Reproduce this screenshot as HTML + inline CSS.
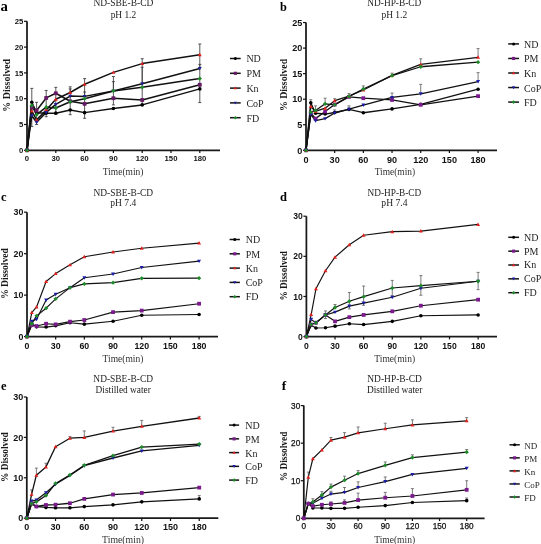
<!DOCTYPE html>
<html><head><meta charset="utf-8"><style>
html,body{margin:0;padding:0;background:#fff;}
body{width:541px;height:544px;overflow:hidden;font-family:"Liberation Sans",sans-serif;}
svg{display:block;will-change:transform;}
</style></head><body>
<svg width="541" height="544" viewBox="0 0 541 544">
<rect width="541" height="544" fill="#fff"/>
<g><text x="0.5" y="10.7" font-family="Liberation Serif, serif" font-weight="bold" font-size="14.8" fill="#000">a</text><text x="123.4" y="6.3" font-family="Liberation Serif, serif" font-size="9.4" fill="#222" text-anchor="middle" textLength="60.0" lengthAdjust="spacingAndGlyphs">ND-SBE-B-CD</text><text x="123.4" y="17.7" font-family="Liberation Serif, serif" font-size="9.4" fill="#222" text-anchor="middle" textLength="25.5" lengthAdjust="spacingAndGlyphs">pH 1.2</text><path d="M27.00,21.30V150.30H220.00" fill="none" stroke="#1a1a1a" stroke-width="1.75"/><path d="M24.00,150.30H27.00" stroke="#111" stroke-width="1.2"/><text x="23.40" y="153.06" font-family="Liberation Sans, sans-serif" font-weight="bold" font-size="7.7" fill="#111" text-anchor="end">0</text><path d="M24.00,124.50H27.00" stroke="#111" stroke-width="1.2"/><text x="23.40" y="127.26" font-family="Liberation Sans, sans-serif" font-weight="bold" font-size="7.7" fill="#111" text-anchor="end">5</text><path d="M24.00,98.70H27.00" stroke="#111" stroke-width="1.2"/><text x="23.40" y="101.46" font-family="Liberation Sans, sans-serif" font-weight="bold" font-size="7.7" fill="#111" text-anchor="end">10</text><path d="M24.00,72.90H27.00" stroke="#111" stroke-width="1.2"/><text x="23.40" y="75.66" font-family="Liberation Sans, sans-serif" font-weight="bold" font-size="7.7" fill="#111" text-anchor="end">15</text><path d="M24.00,47.10H27.00" stroke="#111" stroke-width="1.2"/><text x="23.40" y="49.86" font-family="Liberation Sans, sans-serif" font-weight="bold" font-size="7.7" fill="#111" text-anchor="end">20</text><path d="M24.00,21.30H27.00" stroke="#111" stroke-width="1.2"/><text x="23.40" y="24.06" font-family="Liberation Sans, sans-serif" font-weight="bold" font-size="7.7" fill="#111" text-anchor="end">25</text><text x="27.00" y="161.00" font-family="Liberation Sans, sans-serif" font-weight="bold" font-size="7.7" fill="#111" text-anchor="middle">0</text><path d="M55.80,150.30V153.10" stroke="#111" stroke-width="1.2"/><text x="55.80" y="161.00" font-family="Liberation Sans, sans-serif" font-weight="bold" font-size="7.7" fill="#111" text-anchor="middle">30</text><path d="M84.60,150.30V153.10" stroke="#111" stroke-width="1.2"/><text x="84.60" y="161.00" font-family="Liberation Sans, sans-serif" font-weight="bold" font-size="7.7" fill="#111" text-anchor="middle">60</text><path d="M113.40,150.30V153.10" stroke="#111" stroke-width="1.2"/><text x="113.40" y="161.00" font-family="Liberation Sans, sans-serif" font-weight="bold" font-size="7.7" fill="#111" text-anchor="middle">90</text><path d="M142.20,150.30V153.10" stroke="#111" stroke-width="1.2"/><text x="142.20" y="161.00" font-family="Liberation Sans, sans-serif" font-weight="bold" font-size="7.7" fill="#111" text-anchor="middle">120</text><path d="M171.00,150.30V153.10" stroke="#111" stroke-width="1.2"/><text x="171.00" y="161.00" font-family="Liberation Sans, sans-serif" font-weight="bold" font-size="7.7" fill="#111" text-anchor="middle">150</text><path d="M199.80,150.30V153.10" stroke="#111" stroke-width="1.2"/><text x="199.80" y="161.00" font-family="Liberation Sans, sans-serif" font-weight="bold" font-size="7.7" fill="#111" text-anchor="middle">180</text><text transform="translate(9.6,85.3) rotate(-90)" font-family="Liberation Serif, serif" font-weight="bold" font-size="10.0" fill="#1a1a1a" text-anchor="middle" textLength="52.8" lengthAdjust="spacingAndGlyphs">% Dissolved</text><text x="123.10" y="174.6" font-family="Liberation Serif, serif" font-size="9.4" fill="#333" text-anchor="middle" textLength="40.70" lengthAdjust="spacingAndGlyphs">Time(min)</text><path d="M31.80,88.38V126.56M30.30,88.38H33.30" stroke="#3a3a3a" stroke-width="0.85" fill="none"/><path d="M30.30,126.56H33.30" stroke="#3a3a3a" stroke-width="0.85"/><path d="M36.60,102.31V124.50M35.10,102.31H38.10" stroke="#3a3a3a" stroke-width="0.85" fill="none"/><path d="M35.10,124.50H38.10" stroke="#3a3a3a" stroke-width="0.85"/><path d="M46.20,90.44V116.76M44.70,90.44H47.70" stroke="#3a3a3a" stroke-width="0.85" fill="none"/><path d="M44.70,116.76H47.70" stroke="#3a3a3a" stroke-width="0.85"/><path d="M55.80,87.35V114.18M54.30,87.35H57.30" stroke="#3a3a3a" stroke-width="0.85" fill="none"/><path d="M54.30,114.18H57.30" stroke="#3a3a3a" stroke-width="0.85"/><path d="M70.20,86.83V114.70M68.70,86.83H71.70" stroke="#3a3a3a" stroke-width="0.85" fill="none"/><path d="M68.70,114.70H71.70" stroke="#3a3a3a" stroke-width="0.85"/><path d="M84.60,78.58V118.31M83.10,78.58H86.10" stroke="#3a3a3a" stroke-width="0.85" fill="none"/><path d="M83.10,118.31H86.10" stroke="#3a3a3a" stroke-width="0.85"/><path d="M113.40,76.51V104.89M111.90,76.51H114.90" stroke="#3a3a3a" stroke-width="0.85" fill="none"/><path d="M111.90,104.89H114.90" stroke="#3a3a3a" stroke-width="0.85"/><path d="M142.20,58.71V104.89M140.70,58.71H143.70" stroke="#3a3a3a" stroke-width="0.85" fill="none"/><path d="M140.70,104.89H143.70" stroke="#3a3a3a" stroke-width="0.85"/><path d="M199.80,44.00V102.57M198.30,44.00H201.30" stroke="#3a3a3a" stroke-width="0.85" fill="none"/><path d="M198.30,102.57H201.30" stroke="#3a3a3a" stroke-width="0.85"/><path d="M113.40,81.67V90.96M111.90,81.67H114.90" stroke="#3a3a3a" stroke-width="0.85" fill="none"/><path d="M142.20,67.22V83.74M140.70,67.22H143.70" stroke="#3a3a3a" stroke-width="0.85" fill="none"/><path d="M199.80,64.39V68.51M198.30,64.39H201.30" stroke="#3a3a3a" stroke-width="0.85" fill="none"/><path d="M70.20,88.90V92.51M68.70,88.90H71.70" stroke="#3a3a3a" stroke-width="0.85" fill="none"/><path d="M84.60,91.99V96.38M83.10,91.99H86.10" stroke="#3a3a3a" stroke-width="0.85" fill="none"/><polyline points="27.00,150.30 31.80,102.31 36.60,112.63 46.20,113.15 55.80,113.15 70.20,110.05 84.60,112.63 113.40,108.50 142.20,104.89 199.80,88.90" fill="none" stroke="#111" stroke-width="1.5" stroke-linejoin="round"/><polyline points="27.00,150.30 31.80,107.47 36.60,110.57 46.20,97.93 55.80,93.28 70.20,101.28 84.60,103.86 113.40,98.18 142.20,99.99 199.80,84.77" fill="none" stroke="#111" stroke-width="1.5" stroke-linejoin="round"/><polyline points="27.00,150.30 31.80,111.08 36.60,119.86 46.20,110.05 55.80,99.22 70.20,92.51 84.60,84.25 113.40,72.38 142.20,63.61 199.80,54.84" fill="none" stroke="#111" stroke-width="1.5" stroke-linejoin="round"/><polyline points="27.00,150.30 31.80,115.73 36.60,122.18 46.20,112.37 55.80,104.38 70.20,96.12 84.60,96.38 113.40,90.96 142.20,83.74 199.80,68.51" fill="none" stroke="#111" stroke-width="1.5" stroke-linejoin="round"/><polyline points="27.00,150.30 31.80,105.41 36.60,114.70 46.20,107.21 55.80,107.99 70.20,101.80 84.60,98.70 113.40,90.96 142.20,87.35 199.80,78.58" fill="none" stroke="#111" stroke-width="1.5" stroke-linejoin="round"/><circle cx="27.00" cy="150.30" r="1.80" fill="#000000"/><circle cx="31.80" cy="102.31" r="1.80" fill="#000000"/><circle cx="36.60" cy="112.63" r="1.80" fill="#000000"/><circle cx="46.20" cy="113.15" r="1.80" fill="#000000"/><circle cx="55.80" cy="113.15" r="1.80" fill="#000000"/><circle cx="70.20" cy="110.05" r="1.80" fill="#000000"/><circle cx="84.60" cy="112.63" r="1.80" fill="#000000"/><circle cx="113.40" cy="108.50" r="1.80" fill="#000000"/><circle cx="142.20" cy="104.89" r="1.80" fill="#000000"/><circle cx="199.80" cy="88.90" r="1.80" fill="#000000"/><rect x="25.11" y="148.41" width="3.78" height="3.78" fill="#661a66"/><rect x="29.91" y="105.58" width="3.78" height="3.78" fill="#661a66"/><rect x="34.71" y="108.68" width="3.78" height="3.78" fill="#661a66"/><rect x="44.31" y="96.04" width="3.78" height="3.78" fill="#661a66"/><rect x="53.91" y="91.39" width="3.78" height="3.78" fill="#661a66"/><rect x="68.31" y="99.39" width="3.78" height="3.78" fill="#661a66"/><rect x="82.71" y="101.97" width="3.78" height="3.78" fill="#661a66"/><rect x="111.51" y="96.29" width="3.78" height="3.78" fill="#661a66"/><rect x="140.31" y="98.10" width="3.78" height="3.78" fill="#661a66"/><rect x="197.91" y="82.88" width="3.78" height="3.78" fill="#661a66"/><path d="M27.00,148.32L28.98,151.79L25.02,151.79Z" fill="#e0201c"/><path d="M31.80,109.10L33.78,112.57L29.82,112.57Z" fill="#e0201c"/><path d="M36.60,117.88L38.58,121.34L34.62,121.34Z" fill="#e0201c"/><path d="M46.20,108.07L48.18,111.54L44.22,111.54Z" fill="#e0201c"/><path d="M55.80,97.24L57.78,100.70L53.82,100.70Z" fill="#e0201c"/><path d="M70.20,90.53L72.18,93.99L68.22,93.99Z" fill="#e0201c"/><path d="M84.60,82.27L86.58,85.74L82.62,85.74Z" fill="#e0201c"/><path d="M113.40,70.40L115.38,73.87L111.42,73.87Z" fill="#e0201c"/><path d="M142.20,61.63L144.18,65.10L140.22,65.10Z" fill="#e0201c"/><path d="M199.80,52.86L201.78,56.33L197.82,56.33Z" fill="#e0201c"/><path d="M27.00,152.28L28.98,148.81L25.02,148.81Z" fill="#20209a"/><path d="M31.80,117.71L33.78,114.24L29.82,114.24Z" fill="#20209a"/><path d="M36.60,124.16L38.58,120.69L34.62,120.69Z" fill="#20209a"/><path d="M46.20,114.35L48.18,110.89L44.22,110.89Z" fill="#20209a"/><path d="M55.80,106.36L57.78,102.89L53.82,102.89Z" fill="#20209a"/><path d="M70.20,98.10L72.18,94.64L68.22,94.64Z" fill="#20209a"/><path d="M84.60,98.36L86.58,94.89L82.62,94.89Z" fill="#20209a"/><path d="M113.40,92.94L115.38,89.48L111.42,89.48Z" fill="#20209a"/><path d="M142.20,85.72L144.18,82.25L140.22,82.25Z" fill="#20209a"/><path d="M199.80,70.49L201.78,67.03L197.82,67.03Z" fill="#20209a"/><path d="M27.00,148.14L29.16,150.30L27.00,152.46L24.84,150.30Z" fill="#1f8a2a"/><path d="M31.80,103.25L33.96,105.41L31.80,107.57L29.64,105.41Z" fill="#1f8a2a"/><path d="M36.60,112.54L38.76,114.70L36.60,116.86L34.44,114.70Z" fill="#1f8a2a"/><path d="M46.20,105.05L48.36,107.21L46.20,109.37L44.04,107.21Z" fill="#1f8a2a"/><path d="M55.80,105.83L57.96,107.99L55.80,110.15L53.64,107.99Z" fill="#1f8a2a"/><path d="M70.20,99.64L72.36,101.80L70.20,103.96L68.04,101.80Z" fill="#1f8a2a"/><path d="M84.60,96.54L86.76,98.70L84.60,100.86L82.44,98.70Z" fill="#1f8a2a"/><path d="M113.40,88.80L115.56,90.96L113.40,93.12L111.24,90.96Z" fill="#1f8a2a"/><path d="M142.20,85.19L144.36,87.35L142.20,89.51L140.04,87.35Z" fill="#1f8a2a"/><path d="M199.80,76.42L201.96,78.58L199.80,80.74L197.64,78.58Z" fill="#1f8a2a"/><path d="M230.00,58.50H240.70" stroke="#111" stroke-width="1.5"/><circle cx="235.35" cy="58.50" r="1.50" fill="#000000"/><text x="246.4" y="62.45" font-family="Liberation Serif, serif" font-size="10.0" fill="#252525">ND</text><path d="M230.00,73.30H240.70" stroke="#111" stroke-width="1.5"/><rect x="233.78" y="71.72" width="3.15" height="3.15" fill="#661a66"/><text x="246.4" y="77.25" font-family="Liberation Serif, serif" font-size="10.0" fill="#252525">PM</text><path d="M230.00,88.10H240.70" stroke="#111" stroke-width="1.5"/><path d="M235.35,86.45L237.00,89.34L233.70,89.34Z" fill="#e0201c"/><text x="246.4" y="92.05" font-family="Liberation Serif, serif" font-size="10.0" fill="#252525">Kn</text><path d="M230.00,102.90H240.70" stroke="#111" stroke-width="1.5"/><path d="M235.35,104.55L237.00,101.66L233.70,101.66Z" fill="#20209a"/><text x="246.4" y="106.85" font-family="Liberation Serif, serif" font-size="10.0" fill="#252525">CoP</text><path d="M230.00,117.70H240.70" stroke="#111" stroke-width="1.5"/><path d="M235.35,115.90L237.15,117.70L235.35,119.50L233.55,117.70Z" fill="#1f8a2a"/><text x="246.4" y="121.65" font-family="Liberation Serif, serif" font-size="10.0" fill="#252525">FD</text></g><g><text x="280.0" y="10.9" font-family="Liberation Serif, serif" font-weight="bold" font-size="12.3" fill="#000">b</text><text x="394.3" y="6.3" font-family="Liberation Serif, serif" font-size="9.4" fill="#222" text-anchor="middle" textLength="54.0" lengthAdjust="spacingAndGlyphs">ND-HP-B-CD</text><text x="394.3" y="17.7" font-family="Liberation Serif, serif" font-size="9.4" fill="#222" text-anchor="middle" textLength="25.799999999999997" lengthAdjust="spacingAndGlyphs">pH 1.2</text><path d="M306.00,22.55V150.30H497.00" fill="none" stroke="#1a1a1a" stroke-width="1.75"/><path d="M303.00,150.30H306.00" stroke="#111" stroke-width="1.2"/><text x="302.40" y="153.56" font-family="Liberation Sans, sans-serif" font-weight="bold" font-size="9.1" fill="#111" text-anchor="end">0</text><path d="M303.00,124.75H306.00" stroke="#111" stroke-width="1.2"/><text x="302.40" y="128.01" font-family="Liberation Sans, sans-serif" font-weight="bold" font-size="9.1" fill="#111" text-anchor="end">5</text><path d="M303.00,99.20H306.00" stroke="#111" stroke-width="1.2"/><text x="302.40" y="102.46" font-family="Liberation Sans, sans-serif" font-weight="bold" font-size="9.1" fill="#111" text-anchor="end">10</text><path d="M303.00,73.65H306.00" stroke="#111" stroke-width="1.2"/><text x="302.40" y="76.91" font-family="Liberation Sans, sans-serif" font-weight="bold" font-size="9.1" fill="#111" text-anchor="end">15</text><path d="M303.00,48.10H306.00" stroke="#111" stroke-width="1.2"/><text x="302.40" y="51.36" font-family="Liberation Sans, sans-serif" font-weight="bold" font-size="9.1" fill="#111" text-anchor="end">20</text><path d="M303.00,22.55H306.00" stroke="#111" stroke-width="1.2"/><text x="302.40" y="25.81" font-family="Liberation Sans, sans-serif" font-weight="bold" font-size="9.1" fill="#111" text-anchor="end">25</text><text x="306.00" y="162.60" font-family="Liberation Sans, sans-serif" font-weight="bold" font-size="9.1" fill="#111" text-anchor="middle">0</text><path d="M334.68,150.30V153.10" stroke="#111" stroke-width="1.2"/><text x="334.68" y="162.60" font-family="Liberation Sans, sans-serif" font-weight="bold" font-size="9.1" fill="#111" text-anchor="middle">30</text><path d="M363.36,150.30V153.10" stroke="#111" stroke-width="1.2"/><text x="363.36" y="162.60" font-family="Liberation Sans, sans-serif" font-weight="bold" font-size="9.1" fill="#111" text-anchor="middle">60</text><path d="M392.04,150.30V153.10" stroke="#111" stroke-width="1.2"/><text x="392.04" y="162.60" font-family="Liberation Sans, sans-serif" font-weight="bold" font-size="9.1" fill="#111" text-anchor="middle">90</text><path d="M420.72,150.30V153.10" stroke="#111" stroke-width="1.2"/><text x="420.72" y="162.60" font-family="Liberation Sans, sans-serif" font-weight="bold" font-size="9.1" fill="#111" text-anchor="middle">120</text><path d="M449.40,150.30V153.10" stroke="#111" stroke-width="1.2"/><text x="449.40" y="162.60" font-family="Liberation Sans, sans-serif" font-weight="bold" font-size="9.1" fill="#111" text-anchor="middle">150</text><path d="M478.08,150.30V153.10" stroke="#111" stroke-width="1.2"/><text x="478.08" y="162.60" font-family="Liberation Sans, sans-serif" font-weight="bold" font-size="9.1" fill="#111" text-anchor="middle">180</text><text transform="translate(287.2,85.0) rotate(-90)" font-family="Liberation Serif, serif" font-weight="bold" font-size="10.3" fill="#1a1a1a" text-anchor="middle" textLength="52.199999999999996" lengthAdjust="spacingAndGlyphs">% Dissolved</text><text x="394.90" y="174.8" font-family="Liberation Serif, serif" font-size="9.4" fill="#333" text-anchor="middle" textLength="40.50" lengthAdjust="spacingAndGlyphs">Time(min)</text><path d="M310.78,99.71V102.78M309.28,99.71H312.28" stroke="#666" stroke-width="0.85" fill="none"/><path d="M315.56,105.84V110.44M314.06,105.84H317.06" stroke="#666" stroke-width="0.85" fill="none"/><path d="M325.12,98.18V103.80M323.62,98.18H326.62" stroke="#666" stroke-width="0.85" fill="none"/><path d="M334.68,98.69V100.73M333.18,98.69H336.18" stroke="#666" stroke-width="0.85" fill="none"/><path d="M349.02,93.58V96.13M347.52,93.58H350.52" stroke="#666" stroke-width="0.85" fill="none"/><path d="M363.36,85.91V88.98M361.86,85.91H364.86" stroke="#666" stroke-width="0.85" fill="none"/><path d="M392.04,73.14V75.44M390.54,73.14H393.54" stroke="#666" stroke-width="0.85" fill="none"/><path d="M420.72,58.83V64.45M419.22,58.83H422.22" stroke="#666" stroke-width="0.85" fill="none"/><path d="M478.08,48.61V57.30M476.58,48.61H479.58" stroke="#666" stroke-width="0.85" fill="none"/><path d="M420.72,84.38V93.83M419.22,84.38H422.22" stroke="#666" stroke-width="0.85" fill="none"/><path d="M478.08,72.63V81.57M476.58,72.63H479.58" stroke="#666" stroke-width="0.85" fill="none"/><path d="M392.04,93.07V97.41M390.54,93.07H393.54" stroke="#666" stroke-width="0.85" fill="none"/><path d="M349.02,105.84V109.16M347.52,105.84H350.52" stroke="#666" stroke-width="0.85" fill="none"/><path d="M334.68,109.93V112.49M333.18,109.93H336.18" stroke="#666" stroke-width="0.85" fill="none"/><polyline points="306.00,150.30 310.78,102.78 315.56,113.25 325.12,114.02 334.68,112.49 349.02,109.42 363.36,112.74 392.04,108.91 420.72,104.31 478.08,89.24" fill="none" stroke="#111" stroke-width="1.3" stroke-linejoin="round"/><polyline points="306.00,150.30 310.78,113.00 315.56,118.62 325.12,111.46 334.68,104.57 349.02,96.90 363.36,98.18 392.04,99.97 420.72,104.82 478.08,96.13" fill="none" stroke="#111" stroke-width="1.3" stroke-linejoin="round"/><polyline points="306.00,150.30 310.78,106.61 315.56,111.46 325.12,108.14 334.68,100.73 349.02,96.13 363.36,90.00 392.04,75.44 420.72,64.45 478.08,57.30" fill="none" stroke="#111" stroke-width="1.3" stroke-linejoin="round"/><polyline points="306.00,150.30 310.78,114.53 315.56,120.66 325.12,118.62 334.68,113.00 349.02,109.16 363.36,105.08 392.04,97.41 420.72,93.83 478.08,81.57" fill="none" stroke="#111" stroke-width="1.3" stroke-linejoin="round"/><polyline points="306.00,150.30 310.78,112.23 315.56,110.44 325.12,103.80 334.68,104.82 349.02,96.39 363.36,88.98 392.04,75.69 420.72,66.75 478.08,62.15" fill="none" stroke="#111" stroke-width="1.3" stroke-linejoin="round"/><circle cx="306.00" cy="150.30" r="1.80" fill="#000000"/><circle cx="310.78" cy="102.78" r="1.80" fill="#000000"/><circle cx="315.56" cy="113.25" r="1.80" fill="#000000"/><circle cx="325.12" cy="114.02" r="1.80" fill="#000000"/><circle cx="334.68" cy="112.49" r="1.80" fill="#000000"/><circle cx="349.02" cy="109.42" r="1.80" fill="#000000"/><circle cx="363.36" cy="112.74" r="1.80" fill="#000000"/><circle cx="392.04" cy="108.91" r="1.80" fill="#000000"/><circle cx="420.72" cy="104.31" r="1.80" fill="#000000"/><circle cx="478.08" cy="89.24" r="1.80" fill="#000000"/><rect x="304.11" y="148.41" width="3.78" height="3.78" fill="#7a1a8c"/><rect x="308.89" y="111.11" width="3.78" height="3.78" fill="#7a1a8c"/><rect x="313.67" y="116.73" width="3.78" height="3.78" fill="#7a1a8c"/><rect x="323.23" y="109.57" width="3.78" height="3.78" fill="#7a1a8c"/><rect x="332.79" y="102.68" width="3.78" height="3.78" fill="#7a1a8c"/><rect x="347.13" y="95.01" width="3.78" height="3.78" fill="#7a1a8c"/><rect x="361.47" y="96.29" width="3.78" height="3.78" fill="#7a1a8c"/><rect x="390.15" y="98.08" width="3.78" height="3.78" fill="#7a1a8c"/><rect x="418.83" y="102.93" width="3.78" height="3.78" fill="#7a1a8c"/><rect x="476.19" y="94.24" width="3.78" height="3.78" fill="#7a1a8c"/><path d="M306.00,148.32L307.98,151.79L304.02,151.79Z" fill="#e0201c"/><path d="M310.78,104.63L312.76,108.09L308.80,108.09Z" fill="#e0201c"/><path d="M315.56,109.48L317.54,112.95L313.58,112.95Z" fill="#e0201c"/><path d="M325.12,106.16L327.10,109.63L323.14,109.63Z" fill="#e0201c"/><path d="M334.68,98.75L336.66,102.22L332.70,102.22Z" fill="#e0201c"/><path d="M349.02,94.15L351.00,97.62L347.04,97.62Z" fill="#e0201c"/><path d="M363.36,88.02L365.34,91.49L361.38,91.49Z" fill="#e0201c"/><path d="M392.04,73.46L394.02,76.92L390.06,76.92Z" fill="#e0201c"/><path d="M420.72,62.47L422.70,65.94L418.74,65.94Z" fill="#e0201c"/><path d="M478.08,55.32L480.06,58.78L476.10,58.78Z" fill="#e0201c"/><path d="M306.00,152.28L307.98,148.81L304.02,148.81Z" fill="#1c1ca8"/><path d="M310.78,116.51L312.76,113.05L308.80,113.05Z" fill="#1c1ca8"/><path d="M315.56,122.64L317.54,119.18L313.58,119.18Z" fill="#1c1ca8"/><path d="M325.12,120.60L327.10,117.13L323.14,117.13Z" fill="#1c1ca8"/><path d="M334.68,114.98L336.66,111.51L332.70,111.51Z" fill="#1c1ca8"/><path d="M349.02,111.14L351.00,107.68L347.04,107.68Z" fill="#1c1ca8"/><path d="M363.36,107.06L365.34,103.59L361.38,103.59Z" fill="#1c1ca8"/><path d="M392.04,99.39L394.02,95.93L390.06,95.93Z" fill="#1c1ca8"/><path d="M420.72,95.81L422.70,92.35L418.74,92.35Z" fill="#1c1ca8"/><path d="M478.08,83.55L480.06,80.09L476.10,80.09Z" fill="#1c1ca8"/><path d="M306.00,148.14L308.16,150.30L306.00,152.46L303.84,150.30Z" fill="#1f8a2a"/><path d="M310.78,110.07L312.94,112.23L310.78,114.39L308.62,112.23Z" fill="#1f8a2a"/><path d="M315.56,108.28L317.72,110.44L315.56,112.60L313.40,110.44Z" fill="#1f8a2a"/><path d="M325.12,101.64L327.28,103.80L325.12,105.96L322.96,103.80Z" fill="#1f8a2a"/><path d="M334.68,102.66L336.84,104.82L334.68,106.98L332.52,104.82Z" fill="#1f8a2a"/><path d="M349.02,94.23L351.18,96.39L349.02,98.55L346.86,96.39Z" fill="#1f8a2a"/><path d="M363.36,86.82L365.52,88.98L363.36,91.14L361.20,88.98Z" fill="#1f8a2a"/><path d="M392.04,73.53L394.20,75.69L392.04,77.85L389.88,75.69Z" fill="#1f8a2a"/><path d="M420.72,64.59L422.88,66.75L420.72,68.91L418.56,66.75Z" fill="#1f8a2a"/><path d="M478.08,59.99L480.24,62.15L478.08,64.31L475.92,62.15Z" fill="#1f8a2a"/><path d="M508.20,43.90H519.00" stroke="#111" stroke-width="1.5"/><circle cx="513.60" cy="43.90" r="1.50" fill="#000000"/><text x="524.0" y="47.85" font-family="Liberation Serif, serif" font-size="10.0" fill="#252525">ND</text><path d="M508.20,58.45H519.00" stroke="#111" stroke-width="1.5"/><rect x="512.02" y="56.88" width="3.15" height="3.15" fill="#7a1a8c"/><text x="524.0" y="62.40" font-family="Liberation Serif, serif" font-size="10.0" fill="#252525">PM</text><path d="M508.20,73.00H519.00" stroke="#111" stroke-width="1.5"/><path d="M513.60,71.35L515.25,74.24L511.95,74.24Z" fill="#e0201c"/><text x="524.0" y="76.95" font-family="Liberation Serif, serif" font-size="10.0" fill="#252525">Kn</text><path d="M508.20,87.55H519.00" stroke="#111" stroke-width="1.5"/><path d="M513.60,89.20L515.25,86.31L511.95,86.31Z" fill="#1c1ca8"/><text x="524.0" y="91.50" font-family="Liberation Serif, serif" font-size="10.0" fill="#252525">CoP</text><path d="M508.20,102.10H519.00" stroke="#111" stroke-width="1.5"/><path d="M513.60,100.30L515.40,102.10L513.60,103.90L511.80,102.10Z" fill="#1f8a2a"/><text x="524.0" y="106.05" font-family="Liberation Serif, serif" font-size="10.0" fill="#252525">FD</text></g><g><text x="1.0" y="201.1" font-family="Liberation Serif, serif" font-weight="bold" font-size="12.5" fill="#000">c</text><text x="123.3" y="195.7" font-family="Liberation Serif, serif" font-size="9.4" fill="#222" text-anchor="middle" textLength="59.699999999999996" lengthAdjust="spacingAndGlyphs">ND-SBE-B-CD</text><text x="123.3" y="206.2" font-family="Liberation Serif, serif" font-size="9.4" fill="#222" text-anchor="middle" textLength="26.0" lengthAdjust="spacingAndGlyphs">pH 7.4</text><path d="M27.00,212.19V336.60H218.00" fill="none" stroke="#1a1a1a" stroke-width="1.75"/><path d="M24.00,336.60H27.00" stroke="#111" stroke-width="1.2"/><text x="23.40" y="339.75" font-family="Liberation Sans, sans-serif" font-weight="bold" font-size="8.8" fill="#111" text-anchor="end">0</text><path d="M24.00,295.13H27.00" stroke="#111" stroke-width="1.2"/><text x="23.40" y="298.28" font-family="Liberation Sans, sans-serif" font-weight="bold" font-size="8.8" fill="#111" text-anchor="end">10</text><path d="M24.00,253.66H27.00" stroke="#111" stroke-width="1.2"/><text x="23.40" y="256.81" font-family="Liberation Sans, sans-serif" font-weight="bold" font-size="8.8" fill="#111" text-anchor="end">20</text><path d="M24.00,212.19H27.00" stroke="#111" stroke-width="1.2"/><text x="23.40" y="215.34" font-family="Liberation Sans, sans-serif" font-weight="bold" font-size="8.8" fill="#111" text-anchor="end">30</text><text x="27.00" y="349.00" font-family="Liberation Sans, sans-serif" font-weight="bold" font-size="8.8" fill="#111" text-anchor="middle">0</text><path d="M55.68,336.60V339.40" stroke="#111" stroke-width="1.2"/><text x="55.68" y="349.00" font-family="Liberation Sans, sans-serif" font-weight="bold" font-size="8.8" fill="#111" text-anchor="middle">30</text><path d="M84.36,336.60V339.40" stroke="#111" stroke-width="1.2"/><text x="84.36" y="349.00" font-family="Liberation Sans, sans-serif" font-weight="bold" font-size="8.8" fill="#111" text-anchor="middle">60</text><path d="M113.04,336.60V339.40" stroke="#111" stroke-width="1.2"/><text x="113.04" y="349.00" font-family="Liberation Sans, sans-serif" font-weight="bold" font-size="8.8" fill="#111" text-anchor="middle">90</text><path d="M141.72,336.60V339.40" stroke="#111" stroke-width="1.2"/><text x="141.72" y="349.00" font-family="Liberation Sans, sans-serif" font-weight="bold" font-size="8.8" fill="#111" text-anchor="middle">120</text><path d="M170.40,336.60V339.40" stroke="#111" stroke-width="1.2"/><text x="170.40" y="349.00" font-family="Liberation Sans, sans-serif" font-weight="bold" font-size="8.8" fill="#111" text-anchor="middle">150</text><path d="M199.08,336.60V339.40" stroke="#111" stroke-width="1.2"/><text x="199.08" y="349.00" font-family="Liberation Sans, sans-serif" font-weight="bold" font-size="8.8" fill="#111" text-anchor="middle">180</text><text transform="translate(8.3,273.5) rotate(-90)" font-family="Liberation Serif, serif" font-weight="bold" font-size="10.3" fill="#1a1a1a" text-anchor="middle" textLength="50.599999999999994" lengthAdjust="spacingAndGlyphs">% Dissolved</text><text x="123.00" y="362.0" font-family="Liberation Serif, serif" font-size="9.4" fill="#333" text-anchor="middle" textLength="40.90" lengthAdjust="spacingAndGlyphs">Time(min)</text><polyline points="27.00,336.60 31.78,323.74 36.56,326.85 46.12,327.06 55.68,325.82 70.02,322.71 84.36,324.16 113.04,321.26 141.72,315.20 199.08,314.50" fill="none" stroke="#111" stroke-width="1.15" stroke-linejoin="round"/><polyline points="27.00,336.60 31.78,325.20 36.56,326.03 46.12,323.74 55.68,324.37 70.02,321.67 84.36,320.01 113.04,312.13 141.72,310.60 199.08,303.71" fill="none" stroke="#111" stroke-width="1.15" stroke-linejoin="round"/><polyline points="27.00,336.60 31.78,312.55 36.56,306.95 46.12,281.44 55.68,273.57 70.02,264.86 84.36,256.77 113.04,252.00 141.72,248.27 199.08,243.09" fill="none" stroke="#111" stroke-width="1.15" stroke-linejoin="round"/><polyline points="27.00,336.60 31.78,321.26 36.56,319.18 46.12,299.90 55.68,294.30 70.02,287.67 84.36,277.71 113.04,273.98 141.72,267.55 199.08,261.12" fill="none" stroke="#111" stroke-width="1.15" stroke-linejoin="round"/><polyline points="27.00,336.60 31.78,323.74 36.56,315.87 46.12,308.19 55.68,298.86 70.02,287.67 84.36,283.93 113.04,282.69 141.72,278.33 199.08,278.13" fill="none" stroke="#111" stroke-width="1.15" stroke-linejoin="round"/><circle cx="27.00" cy="336.60" r="1.80" fill="#000000"/><circle cx="31.78" cy="323.74" r="1.80" fill="#000000"/><circle cx="36.56" cy="326.85" r="1.80" fill="#000000"/><circle cx="46.12" cy="327.06" r="1.80" fill="#000000"/><circle cx="55.68" cy="325.82" r="1.80" fill="#000000"/><circle cx="70.02" cy="322.71" r="1.80" fill="#000000"/><circle cx="84.36" cy="324.16" r="1.80" fill="#000000"/><circle cx="113.04" cy="321.26" r="1.80" fill="#000000"/><circle cx="141.72" cy="315.20" r="1.80" fill="#000000"/><circle cx="199.08" cy="314.50" r="1.80" fill="#000000"/><rect x="25.11" y="334.71" width="3.78" height="3.78" fill="#7a1a8c"/><rect x="29.89" y="323.31" width="3.78" height="3.78" fill="#7a1a8c"/><rect x="34.67" y="324.14" width="3.78" height="3.78" fill="#7a1a8c"/><rect x="44.23" y="321.85" width="3.78" height="3.78" fill="#7a1a8c"/><rect x="53.79" y="322.48" width="3.78" height="3.78" fill="#7a1a8c"/><rect x="68.13" y="319.78" width="3.78" height="3.78" fill="#7a1a8c"/><rect x="82.47" y="318.12" width="3.78" height="3.78" fill="#7a1a8c"/><rect x="111.15" y="310.24" width="3.78" height="3.78" fill="#7a1a8c"/><rect x="139.83" y="308.71" width="3.78" height="3.78" fill="#7a1a8c"/><rect x="197.19" y="301.82" width="3.78" height="3.78" fill="#7a1a8c"/><path d="M27.00,334.62L28.98,338.09L25.02,338.09Z" fill="#e0201c"/><path d="M31.78,310.57L33.76,314.03L29.80,314.03Z" fill="#e0201c"/><path d="M36.56,304.97L38.54,308.43L34.58,308.43Z" fill="#e0201c"/><path d="M46.12,279.46L48.10,282.93L44.14,282.93Z" fill="#e0201c"/><path d="M55.68,271.59L57.66,275.05L53.70,275.05Z" fill="#e0201c"/><path d="M70.02,262.88L72.00,266.34L68.04,266.34Z" fill="#e0201c"/><path d="M84.36,254.79L86.34,258.26L82.38,258.26Z" fill="#e0201c"/><path d="M113.04,250.02L115.02,253.49L111.06,253.49Z" fill="#e0201c"/><path d="M141.72,246.29L143.70,249.75L139.74,249.75Z" fill="#e0201c"/><path d="M199.08,241.11L201.06,244.57L197.10,244.57Z" fill="#e0201c"/><path d="M27.00,338.58L28.98,335.12L25.02,335.12Z" fill="#1c1ca8"/><path d="M31.78,323.24L33.76,319.77L29.80,319.77Z" fill="#1c1ca8"/><path d="M36.56,321.16L38.54,317.70L34.58,317.70Z" fill="#1c1ca8"/><path d="M46.12,301.88L48.10,298.41L44.14,298.41Z" fill="#1c1ca8"/><path d="M55.68,296.28L57.66,292.82L53.70,292.82Z" fill="#1c1ca8"/><path d="M70.02,289.65L72.00,286.18L68.04,286.18Z" fill="#1c1ca8"/><path d="M84.36,279.69L86.34,276.23L82.38,276.23Z" fill="#1c1ca8"/><path d="M113.04,275.96L115.02,272.50L111.06,272.50Z" fill="#1c1ca8"/><path d="M141.72,269.53L143.70,266.07L139.74,266.07Z" fill="#1c1ca8"/><path d="M199.08,263.10L201.06,259.64L197.10,259.64Z" fill="#1c1ca8"/><path d="M27.00,334.44L29.16,336.60L27.00,338.76L24.84,336.60Z" fill="#1f8a2a"/><path d="M31.78,321.58L33.94,323.74L31.78,325.90L29.62,323.74Z" fill="#1f8a2a"/><path d="M36.56,313.70L38.72,315.87L36.56,318.03L34.40,315.87Z" fill="#1f8a2a"/><path d="M46.12,306.03L48.28,308.19L46.12,310.35L43.96,308.19Z" fill="#1f8a2a"/><path d="M55.68,296.70L57.84,298.86L55.68,301.02L53.52,298.86Z" fill="#1f8a2a"/><path d="M70.02,285.51L72.18,287.67L70.02,289.83L67.86,287.67Z" fill="#1f8a2a"/><path d="M84.36,281.77L86.52,283.93L84.36,286.09L82.20,283.93Z" fill="#1f8a2a"/><path d="M113.04,280.53L115.20,282.69L113.04,284.85L110.88,282.69Z" fill="#1f8a2a"/><path d="M141.72,276.17L143.88,278.33L141.72,280.49L139.56,278.33Z" fill="#1f8a2a"/><path d="M199.08,275.97L201.24,278.13L199.08,280.29L196.92,278.13Z" fill="#1f8a2a"/><path d="M229.60,239.50H239.90" stroke="#111" stroke-width="1.5"/><circle cx="234.75" cy="239.50" r="1.50" fill="#000000"/><text x="245.7" y="243.25" font-family="Liberation Serif, serif" font-size="10.0" fill="#252525">ND</text><path d="M229.60,253.80H239.90" stroke="#111" stroke-width="1.5"/><rect x="233.18" y="252.23" width="3.15" height="3.15" fill="#7a1a8c"/><text x="245.7" y="257.55" font-family="Liberation Serif, serif" font-size="10.0" fill="#252525">PM</text><path d="M229.60,268.10H239.90" stroke="#111" stroke-width="1.5"/><path d="M234.75,266.45L236.40,269.34L233.10,269.34Z" fill="#e0201c"/><text x="245.7" y="271.85" font-family="Liberation Serif, serif" font-size="10.0" fill="#252525">Kn</text><path d="M229.60,282.40H239.90" stroke="#111" stroke-width="1.5"/><path d="M234.75,284.05L236.40,281.16L233.10,281.16Z" fill="#1c1ca8"/><text x="245.7" y="286.15" font-family="Liberation Serif, serif" font-size="10.0" fill="#252525">CoP</text><path d="M229.60,296.70H239.90" stroke="#111" stroke-width="1.5"/><path d="M234.75,294.90L236.55,296.70L234.75,298.50L232.95,296.70Z" fill="#1f8a2a"/><text x="245.7" y="300.45" font-family="Liberation Serif, serif" font-size="10.0" fill="#252525">FD</text></g><g><text x="280.0" y="201.1" font-family="Liberation Serif, serif" font-weight="bold" font-size="12.5" fill="#000">d</text><text x="394.4" y="195.7" font-family="Liberation Serif, serif" font-size="9.4" fill="#222" text-anchor="middle" textLength="53.699999999999996" lengthAdjust="spacingAndGlyphs">ND-HP-B-CD</text><text x="394.4" y="206.2" font-family="Liberation Serif, serif" font-size="9.4" fill="#222" text-anchor="middle" textLength="26.099999999999998" lengthAdjust="spacingAndGlyphs">pH 7.4</text><path d="M306.40,216.21V336.60H497.00" fill="none" stroke="#1a1a1a" stroke-width="1.75"/><path d="M303.40,336.60H306.40" stroke="#111" stroke-width="1.2"/><text x="302.80" y="339.68" font-family="Liberation Sans, sans-serif" font-weight="bold" font-size="8.6" fill="#111" text-anchor="end">0</text><path d="M303.40,296.47H306.40" stroke="#111" stroke-width="1.2"/><text x="302.80" y="299.55" font-family="Liberation Sans, sans-serif" font-weight="bold" font-size="8.6" fill="#111" text-anchor="end">10</text><path d="M303.40,256.34H306.40" stroke="#111" stroke-width="1.2"/><text x="302.80" y="259.42" font-family="Liberation Sans, sans-serif" font-weight="bold" font-size="8.6" fill="#111" text-anchor="end">20</text><path d="M303.40,216.21H306.40" stroke="#111" stroke-width="1.2"/><text x="302.80" y="219.29" font-family="Liberation Sans, sans-serif" font-weight="bold" font-size="8.6" fill="#111" text-anchor="end">30</text><text x="306.40" y="348.60" font-family="Liberation Sans, sans-serif" font-weight="bold" font-size="8.6" fill="#111" text-anchor="middle">0</text><path d="M335.02,336.60V339.40" stroke="#111" stroke-width="1.2"/><text x="335.02" y="348.60" font-family="Liberation Sans, sans-serif" font-weight="bold" font-size="8.6" fill="#111" text-anchor="middle">30</text><path d="M363.64,336.60V339.40" stroke="#111" stroke-width="1.2"/><text x="363.64" y="348.60" font-family="Liberation Sans, sans-serif" font-weight="bold" font-size="8.6" fill="#111" text-anchor="middle">60</text><path d="M392.26,336.60V339.40" stroke="#111" stroke-width="1.2"/><text x="392.26" y="348.60" font-family="Liberation Sans, sans-serif" font-weight="bold" font-size="8.6" fill="#111" text-anchor="middle">90</text><path d="M420.88,336.60V339.40" stroke="#111" stroke-width="1.2"/><text x="420.88" y="348.60" font-family="Liberation Sans, sans-serif" font-weight="bold" font-size="8.6" fill="#111" text-anchor="middle">120</text><path d="M449.50,336.60V339.40" stroke="#111" stroke-width="1.2"/><text x="449.50" y="348.60" font-family="Liberation Sans, sans-serif" font-weight="bold" font-size="8.6" fill="#111" text-anchor="middle">150</text><path d="M478.12,336.60V339.40" stroke="#111" stroke-width="1.2"/><text x="478.12" y="348.60" font-family="Liberation Sans, sans-serif" font-weight="bold" font-size="8.6" fill="#111" text-anchor="middle">180</text><text transform="translate(287.4,275.8) rotate(-90)" font-family="Liberation Serif, serif" font-weight="bold" font-size="10.3" fill="#1a1a1a" text-anchor="middle" textLength="49.5" lengthAdjust="spacingAndGlyphs">% Dissolved</text><text x="394.75" y="362.0" font-family="Liberation Serif, serif" font-size="9.4" fill="#333" text-anchor="middle" textLength="40.80" lengthAdjust="spacingAndGlyphs">Time(min)</text><path d="M325.48,310.92V318.54M323.98,310.92H326.98" stroke="#666" stroke-width="0.85" fill="none"/><path d="M323.98,318.54H326.98" stroke="#666" stroke-width="0.85"/><path d="M335.02,304.50V307.51M333.52,304.50H336.52" stroke="#666" stroke-width="0.85" fill="none"/><path d="M349.33,292.46V308.91M347.83,292.46H350.83" stroke="#666" stroke-width="0.85" fill="none"/><path d="M347.83,308.91H350.83" stroke="#666" stroke-width="0.85"/><path d="M363.64,286.04V305.30M362.14,286.04H365.14" stroke="#666" stroke-width="0.85" fill="none"/><path d="M362.14,305.30H365.14" stroke="#666" stroke-width="0.85"/><path d="M392.26,280.42V295.67M390.76,280.42H393.76" stroke="#666" stroke-width="0.85" fill="none"/><path d="M390.76,295.67H393.76" stroke="#666" stroke-width="0.85"/><path d="M420.88,275.60V295.27M419.38,275.60H422.38" stroke="#666" stroke-width="0.85" fill="none"/><path d="M419.38,295.27H422.38" stroke="#666" stroke-width="0.85"/><path d="M478.12,272.39V289.65M476.62,272.39H479.62" stroke="#666" stroke-width="0.85" fill="none"/><path d="M476.62,289.65H479.62" stroke="#666" stroke-width="0.85"/><polyline points="306.40,336.60 311.17,325.36 315.94,327.97 325.48,327.77 335.02,326.17 349.33,323.76 363.64,324.56 392.26,321.35 420.88,315.73 478.12,314.93" fill="none" stroke="#111" stroke-width="1.15" stroke-linejoin="round"/><polyline points="306.40,336.60 311.17,324.56 315.94,322.76 325.48,314.93 335.02,321.35 349.33,317.14 363.64,314.93 392.26,311.32 420.88,305.70 478.12,299.68" fill="none" stroke="#111" stroke-width="1.15" stroke-linejoin="round"/><polyline points="306.40,336.60 311.17,314.53 315.94,288.85 325.48,270.79 335.02,257.14 349.33,244.70 363.64,235.27 392.26,231.66 420.88,231.06 478.12,224.44" fill="none" stroke="#111" stroke-width="1.15" stroke-linejoin="round"/><polyline points="306.40,336.60 311.17,319.34 315.94,322.96 325.48,314.93 335.02,312.12 349.33,306.10 363.64,303.09 392.26,297.27 420.88,288.24 478.12,281.22" fill="none" stroke="#111" stroke-width="1.15" stroke-linejoin="round"/><polyline points="306.40,336.60 311.17,324.56 315.94,322.76 325.48,314.93 335.02,307.51 349.33,301.29 363.64,296.67 392.26,288.04 420.88,285.63 478.12,281.22" fill="none" stroke="#111" stroke-width="1.15" stroke-linejoin="round"/><circle cx="306.40" cy="336.60" r="1.80" fill="#000000"/><circle cx="311.17" cy="325.36" r="1.80" fill="#000000"/><circle cx="315.94" cy="327.97" r="1.80" fill="#000000"/><circle cx="325.48" cy="327.77" r="1.80" fill="#000000"/><circle cx="335.02" cy="326.17" r="1.80" fill="#000000"/><circle cx="349.33" cy="323.76" r="1.80" fill="#000000"/><circle cx="363.64" cy="324.56" r="1.80" fill="#000000"/><circle cx="392.26" cy="321.35" r="1.80" fill="#000000"/><circle cx="420.88" cy="315.73" r="1.80" fill="#000000"/><circle cx="478.12" cy="314.93" r="1.80" fill="#000000"/><rect x="304.51" y="334.71" width="3.78" height="3.78" fill="#7a1a8c"/><rect x="309.28" y="322.67" width="3.78" height="3.78" fill="#7a1a8c"/><rect x="314.05" y="320.87" width="3.78" height="3.78" fill="#7a1a8c"/><rect x="323.59" y="313.04" width="3.78" height="3.78" fill="#7a1a8c"/><rect x="333.13" y="319.46" width="3.78" height="3.78" fill="#7a1a8c"/><rect x="347.44" y="315.25" width="3.78" height="3.78" fill="#7a1a8c"/><rect x="361.75" y="313.04" width="3.78" height="3.78" fill="#7a1a8c"/><rect x="390.37" y="309.43" width="3.78" height="3.78" fill="#7a1a8c"/><rect x="418.99" y="303.81" width="3.78" height="3.78" fill="#7a1a8c"/><rect x="476.23" y="297.79" width="3.78" height="3.78" fill="#7a1a8c"/><path d="M306.40,334.62L308.38,338.09L304.42,338.09Z" fill="#e0201c"/><path d="M311.17,312.55L313.15,316.01L309.19,316.01Z" fill="#e0201c"/><path d="M315.94,286.87L317.92,290.33L313.96,290.33Z" fill="#e0201c"/><path d="M325.48,268.81L327.46,272.27L323.50,272.27Z" fill="#e0201c"/><path d="M335.02,255.16L337.00,258.63L333.04,258.63Z" fill="#e0201c"/><path d="M349.33,242.72L351.31,246.19L347.35,246.19Z" fill="#e0201c"/><path d="M363.64,233.29L365.62,236.76L361.66,236.76Z" fill="#e0201c"/><path d="M392.26,229.68L394.24,233.15L390.28,233.15Z" fill="#e0201c"/><path d="M420.88,229.08L422.86,232.54L418.90,232.54Z" fill="#e0201c"/><path d="M478.12,222.46L480.10,225.92L476.14,225.92Z" fill="#e0201c"/><path d="M306.40,338.58L308.38,335.12L304.42,335.12Z" fill="#1c1ca8"/><path d="M311.17,321.32L313.15,317.86L309.19,317.86Z" fill="#1c1ca8"/><path d="M315.94,324.94L317.92,321.47L313.96,321.47Z" fill="#1c1ca8"/><path d="M325.48,316.91L327.46,313.44L323.50,313.44Z" fill="#1c1ca8"/><path d="M335.02,314.10L337.00,310.64L333.04,310.64Z" fill="#1c1ca8"/><path d="M349.33,308.08L351.31,304.62L347.35,304.62Z" fill="#1c1ca8"/><path d="M363.64,305.07L365.62,301.61L361.66,301.61Z" fill="#1c1ca8"/><path d="M392.26,299.25L394.24,295.79L390.28,295.79Z" fill="#1c1ca8"/><path d="M420.88,290.22L422.86,286.76L418.90,286.76Z" fill="#1c1ca8"/><path d="M478.12,283.20L480.10,279.74L476.14,279.74Z" fill="#1c1ca8"/><path d="M306.40,334.44L308.56,336.60L306.40,338.76L304.24,336.60Z" fill="#1f8a2a"/><path d="M311.17,322.40L313.33,324.56L311.17,326.72L309.01,324.56Z" fill="#1f8a2a"/><path d="M315.94,320.60L318.10,322.76L315.94,324.92L313.78,322.76Z" fill="#1f8a2a"/><path d="M325.48,312.77L327.64,314.93L325.48,317.09L323.32,314.93Z" fill="#1f8a2a"/><path d="M335.02,305.35L337.18,307.51L335.02,309.67L332.86,307.51Z" fill="#1f8a2a"/><path d="M349.33,299.13L351.49,301.29L349.33,303.45L347.17,301.29Z" fill="#1f8a2a"/><path d="M363.64,294.51L365.80,296.67L363.64,298.83L361.48,296.67Z" fill="#1f8a2a"/><path d="M392.26,285.88L394.42,288.04L392.26,290.20L390.10,288.04Z" fill="#1f8a2a"/><path d="M420.88,283.47L423.04,285.63L420.88,287.79L418.72,285.63Z" fill="#1f8a2a"/><path d="M478.12,279.06L480.28,281.22L478.12,283.38L475.96,281.22Z" fill="#1f8a2a"/><path d="M508.30,237.30H519.00" stroke="#111" stroke-width="1.5"/><circle cx="513.65" cy="237.30" r="1.50" fill="#000000"/><text x="524.0" y="240.70" font-family="Liberation Serif, serif" font-size="10.0" fill="#252525">ND</text><path d="M508.30,251.15H519.00" stroke="#111" stroke-width="1.5"/><rect x="512.07" y="249.58" width="3.15" height="3.15" fill="#7a1a8c"/><text x="524.0" y="254.55" font-family="Liberation Serif, serif" font-size="10.0" fill="#252525">PM</text><path d="M508.30,265.00H519.00" stroke="#111" stroke-width="1.5"/><path d="M513.65,263.35L515.30,266.24L512.00,266.24Z" fill="#e0201c"/><text x="524.0" y="268.40" font-family="Liberation Serif, serif" font-size="10.0" fill="#252525">Kn</text><path d="M508.30,278.85H519.00" stroke="#111" stroke-width="1.5"/><path d="M513.65,280.50L515.30,277.61L512.00,277.61Z" fill="#1c1ca8"/><text x="524.0" y="282.25" font-family="Liberation Serif, serif" font-size="10.0" fill="#252525">CoP</text><path d="M508.30,292.70H519.00" stroke="#111" stroke-width="1.5"/><path d="M513.65,290.90L515.45,292.70L513.65,294.50L511.85,292.70Z" fill="#1f8a2a"/><text x="524.0" y="296.10" font-family="Liberation Serif, serif" font-size="10.0" fill="#252525">FD</text></g><g><text x="1.0" y="390.0" font-family="Liberation Serif, serif" font-weight="bold" font-size="12.5" fill="#000">e</text><text x="123.2" y="381.6" font-family="Liberation Serif, serif" font-size="9.4" fill="#222" text-anchor="middle" textLength="59.699999999999996" lengthAdjust="spacingAndGlyphs">ND-SBE-B-CD</text><text x="123.2" y="393.0" font-family="Liberation Serif, serif" font-size="9.4" fill="#222" text-anchor="middle" textLength="55.199999999999996" lengthAdjust="spacingAndGlyphs">Distilled water</text><path d="M26.80,397.00V518.20H218.30" fill="none" stroke="#1a1a1a" stroke-width="1.75"/><path d="M23.80,518.20H26.80" stroke="#111" stroke-width="1.2"/><text x="23.20" y="521.42" font-family="Liberation Sans, sans-serif" font-weight="bold" font-size="9.0" fill="#111" text-anchor="end">0</text><path d="M23.80,477.80H26.80" stroke="#111" stroke-width="1.2"/><text x="23.20" y="481.02" font-family="Liberation Sans, sans-serif" font-weight="bold" font-size="9.0" fill="#111" text-anchor="end">10</text><path d="M23.80,437.40H26.80" stroke="#111" stroke-width="1.2"/><text x="23.20" y="440.62" font-family="Liberation Sans, sans-serif" font-weight="bold" font-size="9.0" fill="#111" text-anchor="end">20</text><path d="M23.80,397.00H26.80" stroke="#111" stroke-width="1.2"/><text x="23.20" y="400.22" font-family="Liberation Sans, sans-serif" font-weight="bold" font-size="9.0" fill="#111" text-anchor="end">30</text><text x="26.80" y="529.80" font-family="Liberation Sans, sans-serif" font-weight="bold" font-size="9.0" fill="#111" text-anchor="middle">0</text><path d="M55.54,518.20V521.00" stroke="#111" stroke-width="1.2"/><text x="55.54" y="529.80" font-family="Liberation Sans, sans-serif" font-weight="bold" font-size="9.0" fill="#111" text-anchor="middle">30</text><path d="M84.28,518.20V521.00" stroke="#111" stroke-width="1.2"/><text x="84.28" y="529.80" font-family="Liberation Sans, sans-serif" font-weight="bold" font-size="9.0" fill="#111" text-anchor="middle">60</text><path d="M113.02,518.20V521.00" stroke="#111" stroke-width="1.2"/><text x="113.02" y="529.80" font-family="Liberation Sans, sans-serif" font-weight="bold" font-size="9.0" fill="#111" text-anchor="middle">90</text><path d="M141.76,518.20V521.00" stroke="#111" stroke-width="1.2"/><text x="141.76" y="529.80" font-family="Liberation Sans, sans-serif" font-weight="bold" font-size="9.0" fill="#111" text-anchor="middle">120</text><path d="M170.50,518.20V521.00" stroke="#111" stroke-width="1.2"/><text x="170.50" y="529.80" font-family="Liberation Sans, sans-serif" font-weight="bold" font-size="9.0" fill="#111" text-anchor="middle">150</text><path d="M199.24,518.20V521.00" stroke="#111" stroke-width="1.2"/><text x="199.24" y="529.80" font-family="Liberation Sans, sans-serif" font-weight="bold" font-size="9.0" fill="#111" text-anchor="middle">180</text><text transform="translate(8.1,457.2) rotate(-90)" font-family="Liberation Serif, serif" font-weight="bold" font-size="10.3" fill="#1a1a1a" text-anchor="middle" textLength="49.599999999999994" lengthAdjust="spacingAndGlyphs">% Dissolved</text><text x="123.05" y="542.5" font-family="Liberation Serif, serif" font-size="9.4" fill="#333" text-anchor="middle" textLength="42.00" lengthAdjust="spacingAndGlyphs">Time(min)</text><path d="M31.59,489.92V494.36M30.09,489.92H33.09" stroke="#666" stroke-width="0.85" fill="none"/><path d="M36.38,468.10V475.17M34.88,468.10H37.88" stroke="#666" stroke-width="0.85" fill="none"/><path d="M45.96,463.26V466.89M44.46,463.26H47.46" stroke="#666" stroke-width="0.85" fill="none"/><path d="M69.91,436.59V438.21M68.41,436.59H71.41" stroke="#666" stroke-width="0.85" fill="none"/><path d="M84.28,430.94V437.40M82.78,430.94H85.78" stroke="#666" stroke-width="0.85" fill="none"/><path d="M113.02,427.30V431.14M111.52,427.30H114.52" stroke="#666" stroke-width="0.85" fill="none"/><path d="M141.76,420.43V426.29M140.26,420.43H143.26" stroke="#666" stroke-width="0.85" fill="none"/><path d="M199.24,416.39V418.01M197.74,416.39H200.74" stroke="#666" stroke-width="0.85" fill="none"/><path d="M199.24,495.58V498.89M197.74,495.58H200.74" stroke="#666" stroke-width="0.85" fill="none"/><polyline points="26.80,518.20 31.59,503.66 36.38,506.48 45.96,507.41 55.54,507.82 69.91,507.82 84.28,506.61 113.02,504.87 141.76,501.84 199.24,498.89" fill="none" stroke="#111" stroke-width="1.3" stroke-linejoin="round"/><polyline points="26.80,518.20 31.59,503.66 36.38,506.48 45.96,504.99 55.54,504.67 69.91,503.25 84.28,498.89 113.02,494.57 141.76,492.95 199.24,487.62" fill="none" stroke="#111" stroke-width="1.3" stroke-linejoin="round"/><polyline points="26.80,518.20 31.59,494.36 36.38,475.17 45.96,466.89 55.54,446.69 69.91,438.21 84.28,437.40 113.02,431.14 141.76,426.29 199.24,418.01" fill="none" stroke="#111" stroke-width="1.3" stroke-linejoin="round"/><polyline points="26.80,518.20 31.59,501.03 36.38,500.02 45.96,492.75 55.54,484.26 69.91,475.38 84.28,465.68 113.02,458.00 141.76,450.93 199.24,445.28" fill="none" stroke="#111" stroke-width="1.3" stroke-linejoin="round"/><polyline points="26.80,518.20 31.59,503.66 36.38,501.84 45.96,495.58 55.54,483.46 69.91,474.97 84.28,465.28 113.02,455.70 141.76,447.10 199.24,444.07" fill="none" stroke="#111" stroke-width="1.3" stroke-linejoin="round"/><circle cx="26.80" cy="518.20" r="1.80" fill="#000000"/><circle cx="31.59" cy="503.66" r="1.80" fill="#000000"/><circle cx="36.38" cy="506.48" r="1.80" fill="#000000"/><circle cx="45.96" cy="507.41" r="1.80" fill="#000000"/><circle cx="55.54" cy="507.82" r="1.80" fill="#000000"/><circle cx="69.91" cy="507.82" r="1.80" fill="#000000"/><circle cx="84.28" cy="506.61" r="1.80" fill="#000000"/><circle cx="113.02" cy="504.87" r="1.80" fill="#000000"/><circle cx="141.76" cy="501.84" r="1.80" fill="#000000"/><circle cx="199.24" cy="498.89" r="1.80" fill="#000000"/><rect x="24.91" y="516.31" width="3.78" height="3.78" fill="#7a1a8c"/><rect x="29.70" y="501.77" width="3.78" height="3.78" fill="#7a1a8c"/><rect x="34.49" y="504.59" width="3.78" height="3.78" fill="#7a1a8c"/><rect x="44.07" y="503.10" width="3.78" height="3.78" fill="#7a1a8c"/><rect x="53.65" y="502.78" width="3.78" height="3.78" fill="#7a1a8c"/><rect x="68.02" y="501.36" width="3.78" height="3.78" fill="#7a1a8c"/><rect x="82.39" y="497.00" width="3.78" height="3.78" fill="#7a1a8c"/><rect x="111.13" y="492.68" width="3.78" height="3.78" fill="#7a1a8c"/><rect x="139.87" y="491.06" width="3.78" height="3.78" fill="#7a1a8c"/><rect x="197.35" y="485.73" width="3.78" height="3.78" fill="#7a1a8c"/><path d="M26.80,516.22L28.78,519.69L24.82,519.69Z" fill="#e0201c"/><path d="M31.59,492.38L33.57,495.85L29.61,495.85Z" fill="#e0201c"/><path d="M36.38,473.19L38.36,476.66L34.40,476.66Z" fill="#e0201c"/><path d="M45.96,464.91L47.94,468.38L43.98,468.38Z" fill="#e0201c"/><path d="M55.54,444.71L57.52,448.18L53.56,448.18Z" fill="#e0201c"/><path d="M69.91,436.23L71.89,439.69L67.93,439.69Z" fill="#e0201c"/><path d="M84.28,435.42L86.26,438.89L82.30,438.89Z" fill="#e0201c"/><path d="M113.02,429.16L115.00,432.62L111.04,432.62Z" fill="#e0201c"/><path d="M141.76,424.31L143.74,427.78L139.78,427.78Z" fill="#e0201c"/><path d="M199.24,416.03L201.22,419.49L197.26,419.49Z" fill="#e0201c"/><path d="M26.80,520.18L28.78,516.72L24.82,516.72Z" fill="#1c1ca8"/><path d="M31.59,503.01L33.57,499.55L29.61,499.55Z" fill="#1c1ca8"/><path d="M36.38,502.00L38.36,498.54L34.40,498.54Z" fill="#1c1ca8"/><path d="M45.96,494.73L47.94,491.26L43.98,491.26Z" fill="#1c1ca8"/><path d="M55.54,486.24L57.52,482.78L53.56,482.78Z" fill="#1c1ca8"/><path d="M69.91,477.36L71.89,473.89L67.93,473.89Z" fill="#1c1ca8"/><path d="M84.28,467.66L86.26,464.20L82.30,464.20Z" fill="#1c1ca8"/><path d="M113.02,459.98L115.00,456.52L111.04,456.52Z" fill="#1c1ca8"/><path d="M141.76,452.91L143.74,449.45L139.78,449.45Z" fill="#1c1ca8"/><path d="M199.24,447.26L201.22,443.79L197.26,443.79Z" fill="#1c1ca8"/><path d="M26.80,516.04L28.96,518.20L26.80,520.36L24.64,518.20Z" fill="#1f8a2a"/><path d="M31.59,501.50L33.75,503.66L31.59,505.82L29.43,503.66Z" fill="#1f8a2a"/><path d="M36.38,499.68L38.54,501.84L36.38,504.00L34.22,501.84Z" fill="#1f8a2a"/><path d="M45.96,493.42L48.12,495.58L45.96,497.74L43.80,495.58Z" fill="#1f8a2a"/><path d="M55.54,481.30L57.70,483.46L55.54,485.62L53.38,483.46Z" fill="#1f8a2a"/><path d="M69.91,472.81L72.07,474.97L69.91,477.13L67.75,474.97Z" fill="#1f8a2a"/><path d="M84.28,463.12L86.44,465.28L84.28,467.44L82.12,465.28Z" fill="#1f8a2a"/><path d="M113.02,453.54L115.18,455.70L113.02,457.86L110.86,455.70Z" fill="#1f8a2a"/><path d="M141.76,444.94L143.92,447.10L141.76,449.26L139.60,447.10Z" fill="#1f8a2a"/><path d="M199.24,441.91L201.40,444.07L199.24,446.23L197.08,444.07Z" fill="#1f8a2a"/><path d="M229.10,425.10H239.10" stroke="#111" stroke-width="1.5"/><circle cx="234.10" cy="425.10" r="1.50" fill="#000000"/><text x="245.3" y="429.05" font-family="Liberation Serif, serif" font-size="10.0" fill="#252525">ND</text><path d="M229.10,438.85H239.10" stroke="#111" stroke-width="1.5"/><rect x="232.53" y="437.28" width="3.15" height="3.15" fill="#7a1a8c"/><text x="245.3" y="442.80" font-family="Liberation Serif, serif" font-size="10.0" fill="#252525">PM</text><path d="M229.10,452.60H239.10" stroke="#111" stroke-width="1.5"/><path d="M234.10,450.95L235.75,453.84L232.45,453.84Z" fill="#e0201c"/><text x="245.3" y="456.55" font-family="Liberation Serif, serif" font-size="10.0" fill="#252525">Kn</text><path d="M229.10,466.35H239.10" stroke="#111" stroke-width="1.5"/><path d="M234.10,468.00L235.75,465.11L232.45,465.11Z" fill="#1c1ca8"/><text x="245.3" y="470.30" font-family="Liberation Serif, serif" font-size="10.0" fill="#252525">CoP</text><path d="M229.10,480.10H239.10" stroke="#111" stroke-width="1.5"/><path d="M234.10,478.30L235.90,480.10L234.10,481.90L232.30,480.10Z" fill="#1f8a2a"/><text x="245.3" y="484.05" font-family="Liberation Serif, serif" font-size="10.0" fill="#252525">FD</text></g><g><text x="281.8" y="390.2" font-family="Liberation Serif, serif" font-weight="bold" font-size="13.5" fill="#000">f</text><text x="394.6" y="381.6" font-family="Liberation Serif, serif" font-size="9.4" fill="#222" text-anchor="middle" textLength="54.6" lengthAdjust="spacingAndGlyphs">ND-HP-B-CD</text><text x="394.6" y="393.0" font-family="Liberation Serif, serif" font-size="9.4" fill="#222" text-anchor="middle" textLength="55.4" lengthAdjust="spacingAndGlyphs">Distilled water</text><path d="M303.80,405.59V518.30H484.60" fill="none" stroke="#1a1a1a" stroke-width="1.75"/><path d="M300.80,518.30H303.80" stroke="#111" stroke-width="1.2"/><text x="300.20" y="521.24" font-family="Liberation Sans, sans-serif" font-weight="normal" font-size="8.2" fill="#111" stroke="#111" stroke-width="0.25" text-anchor="end">0</text><path d="M300.80,480.73H303.80" stroke="#111" stroke-width="1.2"/><text x="300.20" y="483.67" font-family="Liberation Sans, sans-serif" font-weight="normal" font-size="8.2" fill="#111" stroke="#111" stroke-width="0.25" text-anchor="end">10</text><path d="M300.80,443.16H303.80" stroke="#111" stroke-width="1.2"/><text x="300.20" y="446.10" font-family="Liberation Sans, sans-serif" font-weight="normal" font-size="8.2" fill="#111" stroke="#111" stroke-width="0.25" text-anchor="end">20</text><path d="M300.80,405.59H303.80" stroke="#111" stroke-width="1.2"/><text x="300.20" y="408.53" font-family="Liberation Sans, sans-serif" font-weight="normal" font-size="8.2" fill="#111" stroke="#111" stroke-width="0.25" text-anchor="end">30</text><text x="303.80" y="529.00" font-family="Liberation Sans, sans-serif" font-weight="normal" font-size="8.2" fill="#111" stroke="#111" stroke-width="0.25" text-anchor="middle">0</text><path d="M330.95,518.30V521.10" stroke="#111" stroke-width="1.2"/><text x="330.95" y="529.00" font-family="Liberation Sans, sans-serif" font-weight="normal" font-size="8.2" fill="#111" stroke="#111" stroke-width="0.25" text-anchor="middle">30</text><path d="M358.10,518.30V521.10" stroke="#111" stroke-width="1.2"/><text x="358.10" y="529.00" font-family="Liberation Sans, sans-serif" font-weight="normal" font-size="8.2" fill="#111" stroke="#111" stroke-width="0.25" text-anchor="middle">60</text><path d="M385.25,518.30V521.10" stroke="#111" stroke-width="1.2"/><text x="385.25" y="529.00" font-family="Liberation Sans, sans-serif" font-weight="normal" font-size="8.2" fill="#111" stroke="#111" stroke-width="0.25" text-anchor="middle">90</text><path d="M412.40,518.30V521.10" stroke="#111" stroke-width="1.2"/><text x="412.40" y="529.00" font-family="Liberation Sans, sans-serif" font-weight="normal" font-size="8.2" fill="#111" stroke="#111" stroke-width="0.25" text-anchor="middle">120</text><path d="M439.55,518.30V521.10" stroke="#111" stroke-width="1.2"/><text x="439.55" y="529.00" font-family="Liberation Sans, sans-serif" font-weight="normal" font-size="8.2" fill="#111" stroke="#111" stroke-width="0.25" text-anchor="middle">150</text><path d="M466.70,518.30V521.10" stroke="#111" stroke-width="1.2"/><text x="466.70" y="529.00" font-family="Liberation Sans, sans-serif" font-weight="normal" font-size="8.2" fill="#111" stroke="#111" stroke-width="0.25" text-anchor="middle">180</text><text transform="translate(287.4,456.4) rotate(-90)" font-family="Liberation Serif, serif" font-weight="bold" font-size="10.3" fill="#1a1a1a" text-anchor="middle" textLength="49.5" lengthAdjust="spacingAndGlyphs">% Dissolved</text><text x="394.65" y="542.5" font-family="Liberation Serif, serif" font-size="9.4" fill="#333" text-anchor="middle" textLength="41.00" lengthAdjust="spacingAndGlyphs">Time(min)</text><path d="M308.32,472.09V477.16M306.82,472.09H309.82" stroke="#666" stroke-width="0.85" fill="none"/><path d="M312.85,498.76V501.92M311.35,498.76H314.35" stroke="#666" stroke-width="0.85" fill="none"/><path d="M321.90,491.63V495.01M320.40,491.63H323.40" stroke="#666" stroke-width="0.85" fill="none"/><path d="M330.95,484.11V487.12M329.45,484.11H332.45" stroke="#666" stroke-width="0.85" fill="none"/><path d="M344.53,476.22V480.17M343.03,476.22H346.03" stroke="#666" stroke-width="0.85" fill="none"/><path d="M358.10,470.59V473.59M356.60,470.59H359.60" stroke="#666" stroke-width="0.85" fill="none"/><path d="M385.25,461.94V465.33M383.75,461.94H386.75" stroke="#666" stroke-width="0.85" fill="none"/><path d="M412.40,454.81V457.59M410.90,454.81H413.90" stroke="#666" stroke-width="0.85" fill="none"/><path d="M466.70,449.55V452.18M465.20,449.55H468.20" stroke="#666" stroke-width="0.85" fill="none"/><path d="M358.10,427.00V432.83M356.60,427.00H359.60" stroke="#666" stroke-width="0.85" fill="none"/><path d="M385.25,423.25V428.70M383.75,423.25H386.75" stroke="#666" stroke-width="0.85" fill="none"/><path d="M412.40,419.87V424.90M410.90,419.87H413.90" stroke="#666" stroke-width="0.85" fill="none"/><path d="M466.70,417.61V420.81M465.20,417.61H468.20" stroke="#666" stroke-width="0.85" fill="none"/><path d="M344.53,432.64V437.15M343.03,432.64H346.03" stroke="#666" stroke-width="0.85" fill="none"/><path d="M330.95,437.52V440.15M329.45,437.52H332.45" stroke="#666" stroke-width="0.85" fill="none"/><path d="M321.90,495.76V498.20M320.40,495.76H323.40" stroke="#666" stroke-width="0.85" fill="none"/><path d="M330.95,491.25V494.07M329.45,491.25H332.45" stroke="#666" stroke-width="0.85" fill="none"/><path d="M344.53,487.49V492.38M343.03,487.49H346.03" stroke="#666" stroke-width="0.85" fill="none"/><path d="M358.10,481.86V487.49M356.60,481.86H359.60" stroke="#666" stroke-width="0.85" fill="none"/><path d="M385.25,476.97V481.59M383.75,476.97H386.75" stroke="#666" stroke-width="0.85" fill="none"/><path d="M330.95,501.77V504.02M329.45,501.77H332.45" stroke="#666" stroke-width="0.85" fill="none"/><path d="M344.53,499.89V502.90M343.03,499.89H346.03" stroke="#666" stroke-width="0.85" fill="none"/><path d="M358.10,493.13V500.08M356.60,493.13H359.60" stroke="#666" stroke-width="0.85" fill="none"/><path d="M385.25,492.38V497.71M383.75,492.38H386.75" stroke="#666" stroke-width="0.85" fill="none"/><path d="M412.40,488.62V495.98M410.90,488.62H413.90" stroke="#666" stroke-width="0.85" fill="none"/><path d="M466.70,480.73V489.82M465.20,480.73H468.20" stroke="#666" stroke-width="0.85" fill="none"/><path d="M466.70,498.01V500.64M465.20,498.01H468.20" stroke="#666" stroke-width="0.85" fill="none"/><polyline points="303.80,518.30 308.32,503.65 312.85,507.97 321.90,507.97 330.95,508.34 344.53,508.34 358.10,507.29 385.25,505.60 412.40,502.52 466.70,500.64" fill="none" stroke="#111" stroke-width="1.15" stroke-linejoin="round"/><polyline points="303.80,518.30 308.32,503.65 312.85,506.09 321.90,504.77 330.95,504.02 344.53,502.90 358.10,500.08 385.25,497.71 412.40,495.98 466.70,489.82" fill="none" stroke="#111" stroke-width="1.15" stroke-linejoin="round"/><polyline points="303.80,518.30 308.32,477.16 312.85,458.75 321.90,449.92 330.95,440.15 344.53,437.15 358.10,432.83 385.25,428.70 412.40,424.90 466.70,420.81" fill="none" stroke="#111" stroke-width="1.15" stroke-linejoin="round"/><polyline points="303.80,518.30 308.32,503.65 312.85,503.27 321.90,498.20 330.95,494.07 344.53,492.38 358.10,487.49 385.25,481.59 412.40,474.42 466.70,468.33" fill="none" stroke="#111" stroke-width="1.15" stroke-linejoin="round"/><polyline points="303.80,518.30 308.32,503.65 312.85,501.92 321.90,495.01 330.95,487.12 344.53,480.17 358.10,473.59 385.25,465.33 412.40,457.59 466.70,452.18" fill="none" stroke="#111" stroke-width="1.15" stroke-linejoin="round"/><circle cx="303.80" cy="518.30" r="1.80" fill="#000000"/><circle cx="308.32" cy="503.65" r="1.80" fill="#000000"/><circle cx="312.85" cy="507.97" r="1.80" fill="#000000"/><circle cx="321.90" cy="507.97" r="1.80" fill="#000000"/><circle cx="330.95" cy="508.34" r="1.80" fill="#000000"/><circle cx="344.53" cy="508.34" r="1.80" fill="#000000"/><circle cx="358.10" cy="507.29" r="1.80" fill="#000000"/><circle cx="385.25" cy="505.60" r="1.80" fill="#000000"/><circle cx="412.40" cy="502.52" r="1.80" fill="#000000"/><circle cx="466.70" cy="500.64" r="1.80" fill="#000000"/><path d="M303.80,516.32L305.78,519.78L301.82,519.78Z" fill="#e0201c"/><path d="M308.32,475.18L310.31,478.65L306.34,478.65Z" fill="#e0201c"/><path d="M312.85,456.77L314.83,460.24L310.87,460.24Z" fill="#e0201c"/><path d="M321.90,447.94L323.88,451.41L319.92,451.41Z" fill="#e0201c"/><path d="M330.95,438.17L332.93,441.64L328.97,441.64Z" fill="#e0201c"/><path d="M344.53,435.17L346.51,438.63L342.55,438.63Z" fill="#e0201c"/><path d="M358.10,430.85L360.08,434.31L356.12,434.31Z" fill="#e0201c"/><path d="M385.25,426.72L387.23,430.18L383.27,430.18Z" fill="#e0201c"/><path d="M412.40,422.92L414.38,426.39L410.42,426.39Z" fill="#e0201c"/><path d="M466.70,418.83L468.68,422.29L464.72,422.29Z" fill="#e0201c"/><path d="M303.80,520.28L305.78,516.81L301.82,516.81Z" fill="#1c1ca8"/><path d="M308.32,505.63L310.31,502.16L306.34,502.16Z" fill="#1c1ca8"/><path d="M312.85,505.25L314.83,501.79L310.87,501.79Z" fill="#1c1ca8"/><path d="M321.90,500.18L323.88,496.72L319.92,496.72Z" fill="#1c1ca8"/><path d="M330.95,496.05L332.93,492.58L328.97,492.58Z" fill="#1c1ca8"/><path d="M344.53,494.36L346.51,490.89L342.55,490.89Z" fill="#1c1ca8"/><path d="M358.10,489.47L360.08,486.01L356.12,486.01Z" fill="#1c1ca8"/><path d="M385.25,483.57L387.23,480.11L383.27,480.11Z" fill="#1c1ca8"/><path d="M412.40,476.40L414.38,472.93L410.42,472.93Z" fill="#1c1ca8"/><path d="M466.70,470.31L468.68,466.85L464.72,466.85Z" fill="#1c1ca8"/><path d="M303.80,516.14L305.96,518.30L303.80,520.46L301.64,518.30Z" fill="#1f8a2a"/><path d="M308.32,501.49L310.49,503.65L308.32,505.81L306.16,503.65Z" fill="#1f8a2a"/><path d="M312.85,499.76L315.01,501.92L312.85,504.08L310.69,501.92Z" fill="#1f8a2a"/><path d="M321.90,492.85L324.06,495.01L321.90,497.17L319.74,495.01Z" fill="#1f8a2a"/><path d="M330.95,484.96L333.11,487.12L330.95,489.28L328.79,487.12Z" fill="#1f8a2a"/><path d="M344.53,478.01L346.69,480.17L344.53,482.33L342.37,480.17Z" fill="#1f8a2a"/><path d="M358.10,471.43L360.26,473.59L358.10,475.75L355.94,473.59Z" fill="#1f8a2a"/><path d="M385.25,463.17L387.41,465.33L385.25,467.49L383.09,465.33Z" fill="#1f8a2a"/><path d="M412.40,455.43L414.56,457.59L412.40,459.75L410.24,457.59Z" fill="#1f8a2a"/><path d="M466.70,450.02L468.86,452.18L466.70,454.34L464.54,452.18Z" fill="#1f8a2a"/><rect x="301.91" y="516.41" width="3.78" height="3.78" fill="#7a1a8c"/><rect x="306.44" y="501.76" width="3.78" height="3.78" fill="#7a1a8c"/><rect x="310.96" y="504.20" width="3.78" height="3.78" fill="#7a1a8c"/><rect x="320.01" y="502.88" width="3.78" height="3.78" fill="#7a1a8c"/><rect x="329.06" y="502.13" width="3.78" height="3.78" fill="#7a1a8c"/><rect x="342.64" y="501.01" width="3.78" height="3.78" fill="#7a1a8c"/><rect x="356.21" y="498.19" width="3.78" height="3.78" fill="#7a1a8c"/><rect x="383.36" y="495.82" width="3.78" height="3.78" fill="#7a1a8c"/><rect x="410.51" y="494.09" width="3.78" height="3.78" fill="#7a1a8c"/><rect x="464.81" y="487.93" width="3.78" height="3.78" fill="#7a1a8c"/><path d="M509.50,444.80H519.80" stroke="#111" stroke-width="1.5"/><circle cx="514.65" cy="444.80" r="1.50" fill="#000000"/><text x="524.2" y="448.75" font-family="Liberation Serif, serif" font-size="9.0" fill="#252525">ND</text><path d="M509.50,457.85H519.80" stroke="#111" stroke-width="1.5"/><rect x="513.07" y="456.28" width="3.15" height="3.15" fill="#7a1a8c"/><text x="524.2" y="461.80" font-family="Liberation Serif, serif" font-size="9.0" fill="#252525">PM</text><path d="M509.50,470.90H519.80" stroke="#111" stroke-width="1.5"/><path d="M514.65,469.25L516.30,472.14L513.00,472.14Z" fill="#e0201c"/><text x="524.2" y="474.85" font-family="Liberation Serif, serif" font-size="9.0" fill="#252525">Kn</text><path d="M509.50,483.95H519.80" stroke="#111" stroke-width="1.5"/><path d="M514.65,485.60L516.30,482.71L513.00,482.71Z" fill="#1c1ca8"/><text x="524.2" y="487.90" font-family="Liberation Serif, serif" font-size="9.0" fill="#252525">CoP</text><path d="M509.50,497.00H519.80" stroke="#111" stroke-width="1.5"/><path d="M514.65,495.20L516.45,497.00L514.65,498.80L512.85,497.00Z" fill="#1f8a2a"/><text x="524.2" y="500.95" font-family="Liberation Serif, serif" font-size="9.0" fill="#252525">FD</text></g>
</svg>
</body></html>
